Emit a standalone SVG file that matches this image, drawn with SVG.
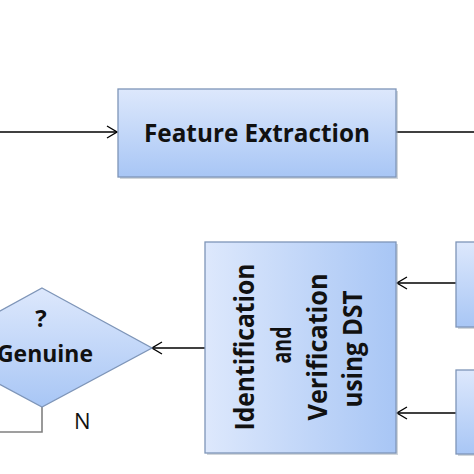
<svg xmlns="http://www.w3.org/2000/svg" width="474" height="474" viewBox="0 0 474 474">
<style>
.box{stroke:#7e95b8;stroke-width:1.3}
.lbl{font-family:"Open Sans","Liberation Sans",sans-serif;font-weight:700;fill:#111;}
.conn{stroke:#000;stroke-width:1.3;fill:none}
.grey{stroke:#808080;stroke-width:1.6;fill:none}
.shadow{fill:#9aa3b0;opacity:0.45}
</style>
<defs>
<linearGradient id="gv" x1="0" y1="0" x2="0" y2="1">
<stop offset="0" stop-color="#dde8fc"/>
<stop offset="1" stop-color="#a8c6f5"/>
</linearGradient>
<linearGradient id="gh" x1="0" y1="0" x2="1" y2="0">
<stop offset="0" stop-color="#dde8fc"/>
<stop offset="1" stop-color="#a8c6f5"/>
</linearGradient>
<marker id="arr" viewBox="0 0 12 14" refX="11" refY="7" markerWidth="12" markerHeight="14" markerUnits="userSpaceOnUse" orient="auto">
<path d="M1,1 L11,7 L1,13" fill="none" stroke="#000" stroke-width="1.3"/>
</marker>
</defs>
<rect width="474" height="474" fill="#fff"/>

<g id="connectors">
<line class="conn" x1="0" y1="132" x2="117" y2="132" marker-end="url(#arr)"/>
<line class="conn" x1="396" y1="132" x2="474" y2="132"/>
<line class="conn" x1="205" y1="348" x2="152" y2="348" marker-end="url(#arr)"/>
<line class="conn" x1="456" y1="283" x2="397" y2="283" marker-end="url(#arr)"/>
<line class="conn" x1="456" y1="413" x2="397" y2="413" marker-end="url(#arr)"/>
<polyline class="grey" points="42,407 42,432 0,432"/>
<text x="74" y="429" font-family="Open Sans, Liberation Sans, sans-serif" font-size="22" fill="#111">N</text>
</g>

<g id="feature-extraction">
<rect class="shadow" x="120" y="91" width="278" height="88"/>
<rect class="box" x="118" y="89" width="278" height="88" fill="url(#gv)"/>
<text class="lbl" x="257" y="142" font-size="25" text-anchor="middle" textLength="226" lengthAdjust="spacingAndGlyphs">Feature Extraction</text>
</g>

<g id="identification">
<rect class="shadow" x="207" y="244" width="191" height="211"/>
<rect class="box" x="205" y="242" width="191" height="211" fill="url(#gh)"/>
<g transform="translate(300,347) rotate(-90)">
<text class="lbl" x="0" y="-46" font-size="26" text-anchor="middle" textLength="167" lengthAdjust="spacingAndGlyphs">Identification</text>
<text class="lbl" x="2" y="-9" font-size="26" text-anchor="middle" textLength="37" lengthAdjust="spacingAndGlyphs">and</text>
<text class="lbl" x="0" y="27" font-size="26" text-anchor="middle" textLength="147" lengthAdjust="spacingAndGlyphs">Verification</text>
<text class="lbl" x="-2" y="62" font-size="26" text-anchor="middle" textLength="117" lengthAdjust="spacingAndGlyphs">using DST</text>
</g>
</g>

<g id="genuine">
<polygon class="box" points="42,288 152,348 42,407 -68,348" fill="url(#gv)"/>
<text class="lbl" x="41" y="327" font-size="24" text-anchor="middle">?</text>
<text class="lbl" x="45" y="362" font-size="23" text-anchor="middle" textLength="96" lengthAdjust="spacingAndGlyphs">Genuine</text>
</g>

<g id="right-box-1">
<rect class="shadow" x="458" y="244" width="40" height="85"/>
<rect class="box" x="456" y="242" width="40" height="85" fill="url(#gv)"/>
</g>
<g id="right-box-2">
<rect class="shadow" x="458" y="372" width="40" height="84"/>
<rect class="box" x="456" y="370" width="40" height="84" fill="url(#gv)"/>
</g>
</svg>
